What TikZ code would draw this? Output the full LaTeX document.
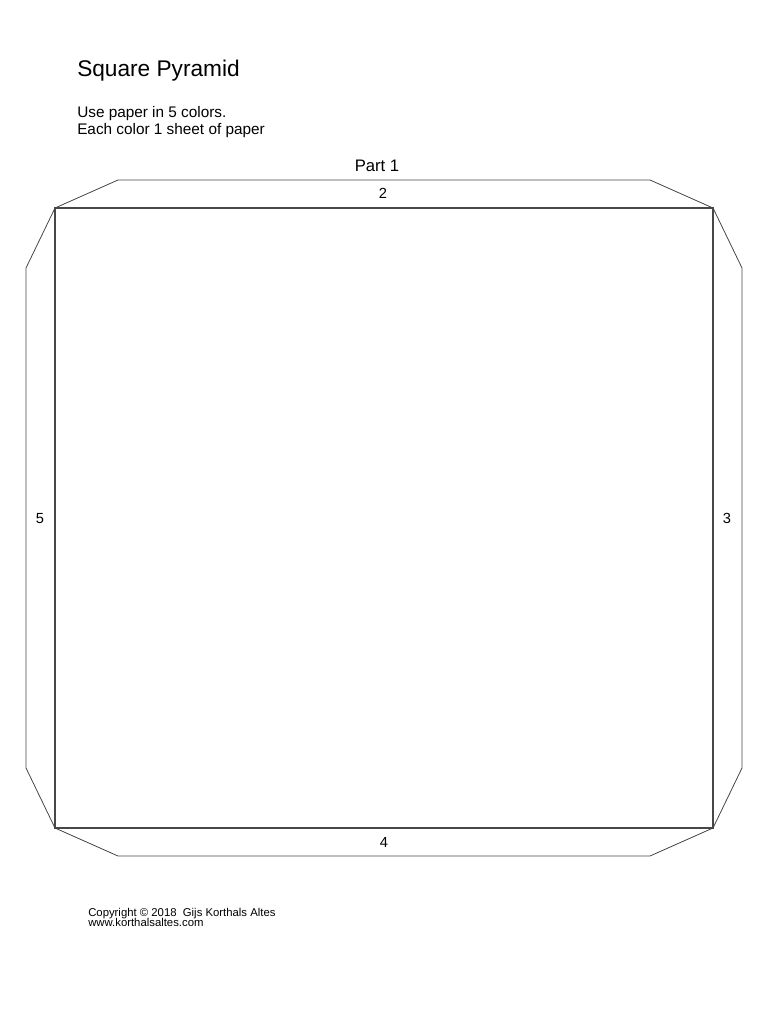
\documentclass[tikz,border=0pt]{standalone}
\usepackage{fontspec}
\setmainfont{Liberation Sans}
\usepackage{tikz}

\begin{document}
\begin{tikzpicture}[x=0.75pt,y=-0.75pt]
        %--- Arguments ----
        \def \sqL {55} % left edge of square
        \def \sqR {713} % right edge of square
        \def \sqT {208} % top edge of square
        \def \sqB {828} % bottom edge of square
        \def \fh {28} % height of top and bottom flaps
        \def \fw {29} % width of side flaps
        \def \hcut {63} % horizontal cut of top and bottom flaps
        \def \vcut {60} % vertical cut of side flaps
        \def \lineColor {black!72}
        \useasboundingbox (0,0) rectangle (768,1024);
        %--- Flaps ---
        % top (2)
        \draw [\lineColor, line width=0.6pt] (\sqL,\sqT) -- (\sqL+\hcut,\sqT-\fh) -- (\sqR-\hcut,\sqT-\fh) -- (\sqR,\sqT);
        % bottom (4)
        \draw [\lineColor, line width=0.6pt] (\sqL,\sqB) -- (\sqL+\hcut,\sqB+\fh) -- (\sqR-\hcut,\sqB+\fh) -- (\sqR,\sqB);
        % left (5)
        \draw [\lineColor, line width=0.6pt] (\sqL,\sqT) -- (\sqL-\fw,\sqT+\vcut) -- (\sqL-\fw,\sqB-\vcut) -- (\sqL,\sqB);
        % right (3)
        \draw [\lineColor, line width=0.6pt] (\sqR,\sqT) -- (\sqR+\fw,\sqT+\vcut) -- (\sqR+\fw,\sqB-\vcut) -- (\sqR,\sqB);
        %--- Square ---
        \draw [\lineColor, line width=0.9pt] (\sqL,\sqT) rectangle (\sqR,\sqB);
        %--- Header ---
        \node [anchor=base west, inner sep=0, font=\fontsize{17}{20}\selectfont] (title) at (77,77) {Square Pyramid};
        \node [anchor=base west, inner sep=0, font=\fontsize{11.5}{13}\selectfont] (use) at (77,117.7) {Use paper in 5 colors.};
        \node [anchor=base west, inner sep=0, font=\fontsize{11.5}{13}\selectfont] (each) at (77,134.3) {Each color 1 sheet of paper};
        \node [anchor=base, inner sep=0, font=\fontsize{12.5}{14}\selectfont] (part) at (377,171) {Part 1};
        %--- Flap labels ---
        \node [anchor=base, inner sep=0, font=\fontsize{11}{13}\selectfont] (two) at (383,198.3) {2};
        \node [anchor=base, inner sep=0, font=\fontsize{11}{13}\selectfont] (four) at (384,847) {4};
        \node [anchor=base, inner sep=0, font=\fontsize{11}{13}\selectfont] (five) at (40,523.3) {5};
        \node [anchor=base, inner sep=0, font=\fontsize{11}{13}\selectfont] (three) at (727,523.3) {3};
        %--- Footer ---
        \node [anchor=base west, inner sep=0, font=\fontsize{8.5}{10}\selectfont] (copy) at (88,916) {Copyright © 2018\ \ Gijs Korthals Altes};
        \node [anchor=base west, inner sep=0, font=\fontsize{8.5}{10}\selectfont] (web) at (88,926.7) {www.korthalsaltes.com};
    \end{tikzpicture}
\end{document}
